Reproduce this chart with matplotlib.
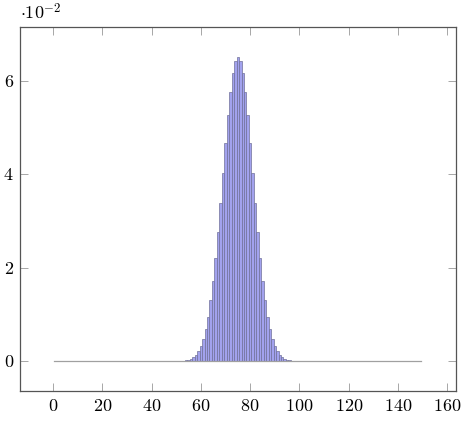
import matplotlib.pyplot as plt
import numpy as np

plt.rcParams['font.family'] = 'serif'
plt.rcParams['font.serif'] = ['cmr10', 'DejaVu Serif']
plt.rcParams['mathtext.fontset'] = 'cm'
plt.rcParams['axes.formatter.use_mathtext'] = True

# bar positions 1..149, heights (in units of 1e-2)
k = np.arange(1, 150)
left_zeros = [0.0] * 52          # k = 1..52
core = [0.010, 0.018, 0.031, 0.053, 0.087, 0.14, 0.21, 0.32, 0.48, 0.68,
        0.95, 1.30, 1.72, 2.21, 2.77, 3.39, 4.03, 4.67, 5.26, 5.77,
        6.17, 6.42, 6.51, 6.42, 6.17, 5.77, 5.26, 4.67, 4.03, 3.39,
        2.77, 2.21, 1.72, 1.30, 0.95, 0.68, 0.48, 0.32, 0.21, 0.14,
        0.087, 0.053, 0.031, 0.018, 0.010]   # k = 53..97
right_zeros = [0.0] * (149 - 52 - len(core))
heights = np.array(left_zeros + core + right_zeros) * 1e-2

fig = plt.figure(figsize=(4.74, 4.23), dpi=100)
ax = fig.add_axes([0.042, 0.0757, 0.919, 0.8603])

ax.bar(k, heights, width=1.0, color='#a2a2ee', edgecolor='#70709a', linewidth=0.5)
# zero line drawn by the empty bars
ax.plot([k[0] - 0.5, k[-1] + 0.5], [0, 0], color='#a0a0a0', linewidth=0.9)

ax.set_xlim(-13.4, 163.3)
ax.set_ylim(-0.0064, 0.0715)
ax.set_xticks(np.arange(0, 161, 20))
ax.set_yticks([0, 0.02, 0.04, 0.06])
ax.set_yticklabels(['0', '2', '4', '6'])

ax.tick_params(direction='in', top=True, right=True, length=6, width=0.6,
               color='#999999', labelsize=13, pad=5)
for s in ax.spines.values():
    s.set_color('#555555')
    s.set_linewidth(0.9)

ax.text(0.0, 1.012, r'$\cdot 10^{-2}$', transform=ax.transAxes,
        ha='left', va='bottom', fontsize=13)

plt.savefig('out.png', dpi=100)
